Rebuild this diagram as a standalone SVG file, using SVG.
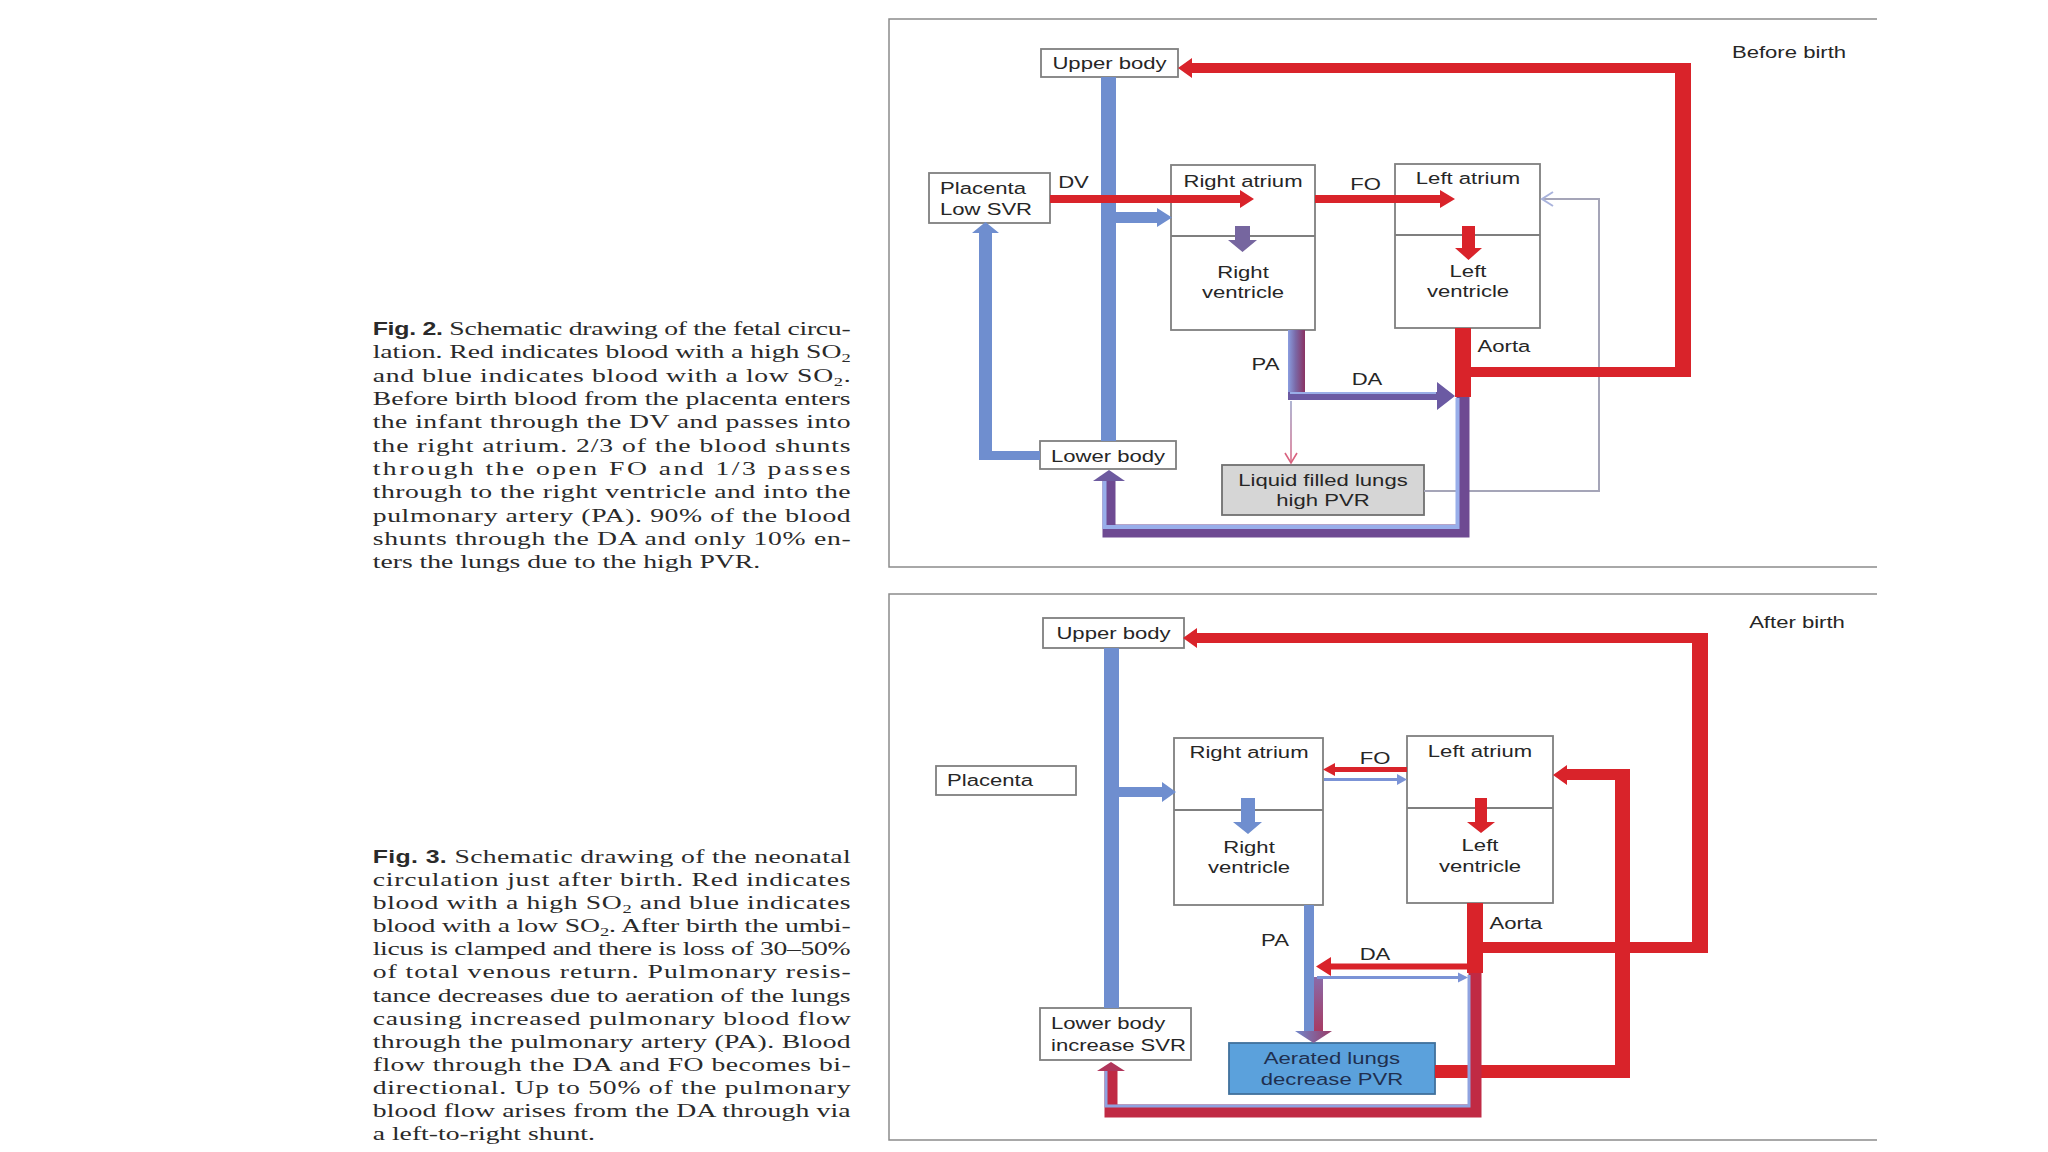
<svg xmlns="http://www.w3.org/2000/svg" width="2048" height="1152" viewBox="0 0 2048 1152">
<defs>
<style>
.box{fill:#fff;stroke:#7f7f7f;stroke-width:1.8}
.lbl{font-family:"Liberation Sans",Arial,sans-serif;font-size:17px;fill:#262626}
.mid{text-anchor:middle}
.cap{font-family:"Liberation Serif","Times New Roman",serif;font-size:19.5px;fill:#2a2a2a}
.capb{font-family:"Liberation Sans",Arial,sans-serif;font-weight:bold;font-size:17.5px}
.sub{font-size:13px}
.frame{stroke:#8c8c8c;stroke-width:1.5;fill:none}
.red{fill:#d9232a}
.blue{fill:#6f8ecf}
</style>
<linearGradient id="paTop" x1="0" x2="1" y1="0" y2="0">
<stop offset="0" stop-color="#8a9de0"/><stop offset="0.45" stop-color="#7a68a6"/><stop offset="1" stop-color="#8a3262"/>
</linearGradient>
<linearGradient id="thinG" gradientUnits="userSpaceOnUse" x1="0" y1="400" x2="0" y2="463">
<stop offset="0" stop-color="#9aa3c8"/><stop offset="1" stop-color="#dc6d8a"/>
</linearGradient>
<linearGradient id="paBand" x1="0" x2="0" y1="0" y2="1">
<stop offset="0" stop-color="#8a6aa8"/><stop offset="1" stop-color="#a83a62"/>
</linearGradient>
<linearGradient id="paHead" x1="0" x2="1" y1="0" y2="0">
<stop offset="0" stop-color="#7088cc"/><stop offset="1" stop-color="#9a3a66"/>
</linearGradient>
</defs>
<rect width="2048" height="1152" fill="#fff"/>

<!-- captions -->
<g id="caption-fig2" transform="translate(372.7,0) scale(1.42,1)">
<text class="cap" x="0" y="335" textLength="336.6" lengthAdjust="spacing"><tspan class="capb">Fig. 2.</tspan> Schematic drawing of the fetal circu-</text>
<text class="cap" x="0" y="358.3" textLength="336.6" lengthAdjust="spacing">lation. Red indicates blood with a high SO<tspan class="sub" dy="4">2</tspan></text>
<text class="cap" x="0" y="381.7" textLength="336.6" lengthAdjust="spacing">and blue indicates blood with a low SO<tspan class="sub" dy="4">2</tspan><tspan dy="-4">.</tspan></text>
<text class="cap" x="0" y="405" textLength="336.6" lengthAdjust="spacing">Before birth blood from the placenta enters</text>
<text class="cap" x="0" y="428.3" textLength="336.6" lengthAdjust="spacing">the infant through the DV and passes into</text>
<text class="cap" x="0" y="451.7" textLength="336.6" lengthAdjust="spacing">the right atrium. 2/3 of the blood shunts</text>
<text class="cap" x="0" y="475" textLength="336.6" lengthAdjust="spacing">through the open FO and 1/3 passes</text>
<text class="cap" x="0" y="498.3" textLength="336.6" lengthAdjust="spacing">through to the right ventricle and into the</text>
<text class="cap" x="0" y="521.7" textLength="336.6" lengthAdjust="spacing">pulmonary artery (PA). 90% of the blood</text>
<text class="cap" x="0" y="545" textLength="336.6" lengthAdjust="spacing">shunts through the DA and only 10% en-</text>
<text class="cap" x="0" y="568">ters the lungs due to the high PVR.</text>
</g>
<g id="caption-fig3" transform="translate(372.7,0) scale(1.42,1)">
<text class="cap" x="0" y="863" textLength="336.6" lengthAdjust="spacing"><tspan class="capb">Fig. 3.</tspan> Schematic drawing of the neonatal</text>
<text class="cap" x="0" y="886.1" textLength="336.6" lengthAdjust="spacing">circulation just after birth. Red indicates</text>
<text class="cap" x="0" y="909.2" textLength="336.6" lengthAdjust="spacing">blood with a high SO<tspan class="sub" dy="4">2</tspan><tspan dy="-4"> and blue indicates</tspan></text>
<text class="cap" x="0" y="932.3" textLength="336.6" lengthAdjust="spacing">blood with a low SO<tspan class="sub" dy="4">2</tspan><tspan dy="-4">. After birth the umbi-</tspan></text>
<text class="cap" x="0" y="955.4" textLength="336.6" lengthAdjust="spacing">licus is clamped and there is loss of 30–50%</text>
<text class="cap" x="0" y="978.5" textLength="336.6" lengthAdjust="spacing">of total venous return. Pulmonary resis-</text>
<text class="cap" x="0" y="1001.6" textLength="336.6" lengthAdjust="spacing">tance decreases due to aeration of the lungs</text>
<text class="cap" x="0" y="1024.7" textLength="336.6" lengthAdjust="spacing">causing increased pulmonary blood flow</text>
<text class="cap" x="0" y="1047.8" textLength="336.6" lengthAdjust="spacing">through the pulmonary artery (PA). Blood</text>
<text class="cap" x="0" y="1070.9" textLength="336.6" lengthAdjust="spacing">flow through the DA and FO becomes bi-</text>
<text class="cap" x="0" y="1094" textLength="336.6" lengthAdjust="spacing">directional. Up to 50% of the pulmonary</text>
<text class="cap" x="0" y="1117.1" textLength="336.6" lengthAdjust="spacing">blood flow arises from the DA through via</text>
<text class="cap" x="0" y="1140.2">a left-to-right shunt.</text>
</g>

<!-- frames -->
<g id="frames">
<path class="frame" d="M1877,19 H889 V567 H1877"/>
<path class="frame" d="M1877,594 H889 V1140 H1877"/>
<text class="lbl mid" transform="translate(1789,58) scale(1.3,1)">Before birth</text>
<text class="lbl mid" transform="translate(1797,628) scale(1.3,1)">After birth</text>
</g>

<!-- nodes, top panel -->
<g id="upper-body-before"><rect class="box" x="1041" y="49" width="137" height="28"/><text class="lbl mid" transform="translate(1109.5,69) scale(1.3,1)">Upper body</text></g>
<g id="placenta-before"><rect class="box" x="929" y="173" width="121" height="50"/><text class="lbl" transform="translate(940,194) scale(1.3,1)">Placenta</text><text class="lbl" transform="translate(940,215) scale(1.3,1)">Low SVR</text></g>
<g id="right-heart-before"><rect class="box" x="1171" y="165" width="144" height="165"/><line x1="1171" y1="236" x2="1315" y2="236" stroke="#7f7f7f" stroke-width="1.8"/>
<text class="lbl mid" transform="translate(1243,187) scale(1.3,1)">Right atrium</text>
<text class="lbl mid" transform="translate(1243,278) scale(1.3,1)">Right</text>
<text class="lbl mid" transform="translate(1243,298) scale(1.3,1)">ventricle</text></g>
<g id="left-heart-before"><rect class="box" x="1395" y="164" width="145" height="164"/><line x1="1395" y1="235" x2="1540" y2="235" stroke="#7f7f7f" stroke-width="1.8"/>
<text class="lbl mid" transform="translate(1468,184) scale(1.3,1)">Left atrium</text>
<text class="lbl mid" transform="translate(1468,277) scale(1.3,1)">Left</text>
<text class="lbl mid" transform="translate(1468,297) scale(1.3,1)">ventricle</text></g>
<g id="lower-body-before"><rect class="box" x="1040" y="441" width="136" height="28"/><text class="lbl mid" transform="translate(1108,462) scale(1.3,1)">Lower body</text></g>
<g id="lungs-before"><rect x="1222" y="465" width="202" height="50" fill="#d6d6d6" stroke="#707070" stroke-width="1.8"/>
<text class="lbl mid" transform="translate(1323,486) scale(1.3,1)">Liquid filled lungs</text>
<text class="lbl mid" transform="translate(1323,506) scale(1.3,1)">high PVR</text></g>

<!-- nodes, bottom panel -->
<g id="upper-body-after"><rect class="box" x="1043" y="618" width="141" height="30"/><text class="lbl mid" transform="translate(1113.5,639) scale(1.3,1)">Upper body</text></g>
<g id="placenta-after"><rect class="box" x="936" y="766" width="140" height="29"/><text class="lbl" transform="translate(947,786) scale(1.3,1)">Placenta</text></g>
<g id="right-heart-after"><rect class="box" x="1174" y="738" width="149" height="167"/><line x1="1174" y1="810" x2="1323" y2="810" stroke="#7f7f7f" stroke-width="1.8"/>
<text class="lbl mid" transform="translate(1249,758) scale(1.3,1)">Right atrium</text>
<text class="lbl mid" transform="translate(1249,853) scale(1.3,1)">Right</text>
<text class="lbl mid" transform="translate(1249,873) scale(1.3,1)">ventricle</text></g>
<g id="left-heart-after"><rect class="box" x="1407" y="736" width="146" height="167"/><line x1="1407" y1="808" x2="1553" y2="808" stroke="#7f7f7f" stroke-width="1.8"/>
<text class="lbl mid" transform="translate(1480,757) scale(1.3,1)">Left atrium</text>
<text class="lbl mid" transform="translate(1480,851) scale(1.3,1)">Left</text>
<text class="lbl mid" transform="translate(1480,872) scale(1.3,1)">ventricle</text></g>
<g id="lower-body-after"><rect class="box" x="1040" y="1008" width="151" height="52"/>
<text class="lbl" transform="translate(1051,1029) scale(1.3,1)">Lower body</text>
<text class="lbl" transform="translate(1051,1051) scale(1.3,1)">increase SVR</text></g>
<g id="lungs-after"><rect x="1229" y="1043" width="206" height="51" fill="#5ba1dc" stroke="#41719c" stroke-width="1.8"/>
<text class="lbl mid" transform="translate(1332,1064) scale(1.3,1)" style="fill:#1f2f4f">Aerated lungs</text>
<text class="lbl mid" transform="translate(1332,1085) scale(1.3,1)" style="fill:#1f2f4f">decrease PVR</text></g>

<!-- connectors, top panel -->
<g id="connectors-before">
<path d="M1424,491 H1599 V199 H1543" stroke="#a5a5b8" stroke-width="2" fill="none"/>
<path d="M1553,192 L1542,199 L1553,206" stroke="#a9b3dc" stroke-width="2" fill="none"/>
<rect class="blue" x="1101" y="77" width="15" height="364"/>
<path class="blue" d="M1116,212 H1157 V208 L1172,217.5 L1157,227 V223 H1116 Z"/>
<path class="red" d="M1050,195 H1240 V190 L1254,199 L1240,208 V203 H1050 Z"/>
<path class="red" d="M1315,195 H1440 V190 L1455,199 L1440,208 V203 H1315 Z"/>
<path fill="#76669f" d="M1235,226 H1250 V240 H1257 L1242.5,252 L1228,240 H1235 Z"/>
<path class="red" d="M1462,226 H1475 V248 H1482 L1468.5,260 L1455,248 H1462 Z"/>
<path class="blue" d="M1040,451 H992 V233 H999 L985.5,222 L972,233 H979 V460 H1040 Z"/>
<path fill="none" stroke="#6e4a92" stroke-width="13" d="M1463,397 V531 H1109 V481"/>
<path fill="none" stroke="#98aeea" stroke-width="4" d="M1457.5,398 V527 H1104.5 V481"/>
<path fill="#6d5a9f" d="M1093,481 L1109,470 L1125,481 Z"/>
<rect x="1288" y="330" width="17" height="70" fill="url(#paTop)"/>
<path fill="#6b5aa3" d="M1288,392 H1437 V382 L1455,396 L1437,410 V400 H1288 Z"/>
<path d="M1290,393 H1436" stroke="#9aaee8" stroke-width="2"/>
<path d="M1291,401 V462" stroke="url(#thinG)" stroke-width="1.6" fill="none"/>
<path d="M1285,453 L1291,463 L1297,453" stroke="#d9627f" fill="none" stroke-width="1.6"/>
<path class="red" d="M1455,328 H1471 V367 H1675 V73 H1192 V78 L1178,68 L1192,58 V63 H1691 V377 H1471 V397 H1455 Z"/>
<text class="lbl mid" transform="translate(1073.5,188) scale(1.3,1)">DV</text>
<text class="lbl mid" transform="translate(1365.5,190) scale(1.3,1)">FO</text>
<text class="lbl mid" transform="translate(1265.5,370) scale(1.3,1)">PA</text>
<text class="lbl mid" transform="translate(1367,385) scale(1.3,1)">DA</text>
<text class="lbl mid" transform="translate(1504,352) scale(1.3,1)">Aorta</text>
</g>

<!-- connectors, bottom panel -->
<g id="connectors-after">
<path class="red" d="M1435,1065 H1615 V780 H1567 V785 L1553,775 L1567,765 V769 H1630 V1078 H1435 Z"/>
<rect class="blue" x="1104" y="648" width="15" height="360"/>
<path class="blue" d="M1119,787 H1162 V782 L1176,792 L1162,802 V797 H1119 Z"/>
<path class="blue" d="M1241,798 H1255 V822 H1262 L1248,834 L1233,822 H1241 Z"/>
<path class="red" d="M1475,798 H1487 V822 H1495 L1481,833 L1467,822 H1475 Z"/>
<path class="red" d="M1407,767 H1335 V763 L1323,769.5 L1335,776 V772 H1407 Z"/>
<path d="M1324,779.5 H1399" stroke="#7b93d6" stroke-width="3"/>
<path fill="#7b93d6" d="M1397,774 L1407,779.5 L1397,785 Z"/>
<path fill="none" stroke="#c02a44" stroke-width="13" d="M1475,972 V1111 H1111 V1071"/>
<path fill="none" stroke="#8fa3e0" stroke-width="3" d="M1469,975 V1106 H1106 V1071"/>
<path fill="#b0355a" d="M1097,1071 L1111,1062 L1125,1071 Z"/>
<rect class="blue" x="1304" y="905" width="10" height="127"/>
<rect x="1314" y="977" width="9" height="55" fill="url(#paBand)"/>
<path fill="url(#paHead)" d="M1295,1031 L1332,1031 L1313.5,1043 Z"/>
<path class="red" d="M1467,963.5 H1331 V957 L1316,966.5 L1331,976 V969.5 H1467 Z"/>
<path d="M1317,977.5 H1460" stroke="#7b93d6" stroke-width="3"/>
<path fill="#7b93d6" d="M1458,972.5 L1468,977.5 L1458,982.5 Z"/>
<path class="red" d="M1467,903 H1483 V942 H1692 V643 H1197 V648 L1183,638 L1197,628 V633 H1708 V953 H1483 V973 H1467 Z"/>
<text class="lbl mid" transform="translate(1375,764) scale(1.3,1)">FO</text>
<text class="lbl mid" transform="translate(1275,946) scale(1.3,1)">PA</text>
<text class="lbl mid" transform="translate(1375,960) scale(1.3,1)">DA</text>
<text class="lbl mid" transform="translate(1516,929) scale(1.3,1)">Aorta</text>
</g>
</svg>
